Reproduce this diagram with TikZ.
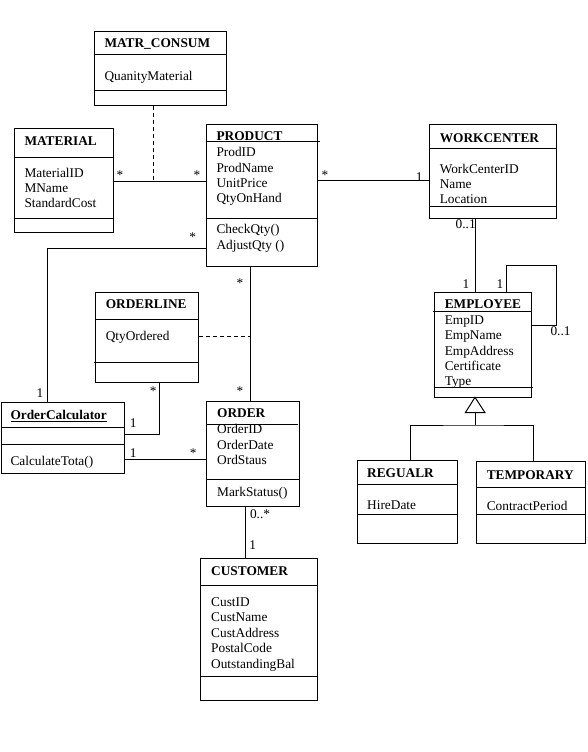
\documentclass[tikz,border=0pt]{standalone}
\usepackage{fontspec}
\setmainfont{Liberation Serif}
\usetikzlibrary{fit}
\tikzset{
  x=0.75pt, y=-0.75pt,
  every path/.style={line width=0.75pt},
  box/.style={draw, line width=0.75pt, inner sep=0pt, fit={#1}},
  ttl/.style={anchor=base west, inner sep=0pt, font=\fontsize{10}{12}\selectfont\bfseries},
  att/.style={anchor=base west, inner sep=0pt, font=\fontsize{10}{12}\selectfont},
  lbl/.style={inner sep=0pt, font=\fontsize{10}{12}\selectfont},
  dsh/.style={dash pattern=on 3pt off 2.25pt}
}
\begin{document}
\begin{tikzpicture}
\useasboundingbox (0,0) rectangle (587,752);
\fill[white] (0,0) rectangle (587,752);

% ---------- boxes ----------
\node[box={(94.3,31.3) (226.7,106)}] (matr) {};
\draw (94.3,55) -- (226.7,55) (94.3,91) -- (226.7,91);
\node[ttl] (matrT) at (104,48) {MATR\_CONSUM};
\node[att] (matrA) at (104,80.5) {QuanityMaterial};

\node[box={(14.3,128.3) (113.3,232.3)}] (material) {};
\draw (14.3,158) -- (113.3,158) (14.3,218.3) -- (113.3,218.3);
\node[ttl] (materialT) at (24,146) {MATERIAL};
\node[att] (materialA1) at (24,177.5) {MaterialID};
\node[att] (materialA2) at (24,193) {MName};
\node[att] (materialA3) at (24,208) {StandardCost};

\node[box={(206.7,124.3) (317.7,266)}] (product) {};
\draw (206.7,142) -- (319.5,142) (206.7,218.3) -- (317.7,218.3);
\node[ttl] (productT) at (216,141) {PRODUCT};
\node[att] (productA1) at (216,157) {ProdID};
\node[att] (productA2) at (216,172.5) {ProdName};
\node[att] (productA3) at (216,188) {UnitPrice};
\node[att] (productA4) at (216,203) {QtyOnHand};
\node[att] (productM1) at (216,233.8) {CheckQty()};
\node[att] (productM2) at (216,249.5) {AdjustQty ()};

\node[box={(429.3,124.3) (556.7,218.3)}] (workcenter) {};
\draw (429.3,148.3) -- (556.7,148.3) (429.3,206.7) -- (556.7,206.7);
\node[ttl] (workcenterT) at (439.3,142.8) {WORKCENTER};
\node[att] (workcenterA1) at (439.3,173.5) {WorkCenterID};
\node[att] (workcenterA2) at (439.3,188.5) {Name};
\node[att] (workcenterA3) at (439.3,203.5) {Location};

\node[box={(434.3,292.3) (531,397.3)}] (employee) {};
\draw (432.5,311.7) -- (531,311.7) (434.3,387.7) -- (532.5,387.7);
\node[ttl] (employeeT) at (444.3,308.8) {EMPLOYEE};
\node[att] (employeeA1) at (444.3,324.5) {EmpID};
\node[att] (employeeA2) at (444.3,339.8) {EmpName};
\node[att] (employeeA3) at (444.3,355) {EmpAddress};
\node[att] (employeeA4) at (444.3,370.2) {Certificate};
\node[att] (employeeA5) at (444.3,385) {Type};

\node[box={(95.7,292.3) (198.7,382.3)}] (orderline) {};
\draw (95.7,319.3) -- (198.7,319.3) (94,362.3) -- (198.7,362.3);
\node[ttl] (orderlineT) at (105.3,308.8) {ORDERLINE};
\node[att] (orderlineA) at (105.3,340.5) {QtyOrdered};

\node[box={(1,402.3) (124.3,473.3)}] (ordercalc) {};
\draw (1,427.3) -- (124.3,427.3) (1,444) -- (124.3,444);
\node[ttl] (ordercalcT) at (10,419.5) {\underline{OrderCalculator}};
\node[att] (ordercalcM) at (10,465.5) {CalculateTota()};

\node[box={(206.7,401.7) (299.3,506)}] (order) {};
\draw (206.7,424.3) -- (297.7,424.3) (206.7,479.3) -- (299.3,479.3);
\node[ttl] (orderT) at (216.7,417.8) {ORDER};
\node[att] (orderA1) at (216.7,433.8) {OrderID};
\node[att] (orderA2) at (216.7,449.2) {OrderDate};
\node[att] (orderA3) at (216.7,464.5) {OrdStaus};
\node[att] (orderM) at (216.7,496.2) {MarkStatus()};

\node[box={(200.7,558.3) (317.3,700)}] (customer) {};
\draw (200.7,585) -- (317.3,585) (200.7,676) -- (317.3,676);
\node[ttl] (customerT) at (210.7,575.2) {CUSTOMER};
\node[att] (customerA1) at (210.7,606.2) {CustID};
\node[att] (customerA2) at (210.7,621.5) {CustName};
\node[att] (customerA3) at (210.7,637.2) {CustAddress};
\node[att] (customerA4) at (210.7,652.5) {PostalCode};
\node[att] (customerA5) at (210.7,668.5) {OutstandingBal};

\node[box={(357.3,460.7) (457.3,543.3)}] (regualr) {};
\draw (357.3,484.7) -- (457.3,484.7) (357.3,514.7) -- (457.3,514.7);
\node[ttl] (regualrT) at (366.7,477.2) {REGUALR};
\node[att] (regualrA) at (366.7,509.5) {HireDate};

\node[box={(476.7,461.7) (585.7,543.3)}] (temporary) {};
\draw (476.7,487.7) -- (585.7,487.7) (476.7,514.7) -- (585.7,514.7);
\node[ttl] (temporaryT) at (486.3,479.5) {TEMPORARY};
\node[att] (temporaryA) at (486.3,510.5) {ContractPeriod};

% ---------- connector coordinates ----------
\coordinate (ya) at (0,181.7);
\coordinate (mj) at (153.3,181.7);
\coordinate (yb) at (0,180.7);
\coordinate (xw) at (475.7,0);
\coordinate (xs) at (506,0);
\coordinate (loopTop) at (556,265);
\coordinate (loopR) at (556,325);
\coordinate (apex) at (475,397.3);
\coordinate (gj) at (475,425);
\coordinate (xr) at (410,0);
\coordinate (xt) at (533.3,0);
\coordinate (xp) at (250,0);
\coordinate (yd) at (0,336.3);
\coordinate (yc) at (0,248.3);
\coordinate (xc) at (47.7,0);
\coordinate (ye) at (0,434);
\coordinate (xo) at (159.3,0);
\coordinate (yf) at (0,459.3);
\coordinate (xq) at (245.7,0);

% ---------- connectors ----------
\draw (material.east |- ya) -- (product.west |- ya);
\draw[dsh] (mj |- matr.south) -- (mj);
\draw (product.east |- yb) -- (workcenter.west |- yb);
\draw (xw |- workcenter.south) -- (xw |- employee.north);
\draw (xs |- employee.north) |- (loopTop) -- (loopR) -- (employee.east |- loopR);
\draw (apex) -- (465.3,412.7) -- (485,412.7) -- cycle;
\draw (475,412.7) -- (gj);
\draw (xr |- regualr.north) |- (gj) -| (xt |- temporary.north);
\draw (xp |- product.south) -- (xp |- order.north);
\draw[dsh] (orderline.east |- yd) -- (xp |- yd);
\draw (product.west |- yc) -| (xc |- ordercalc.north);
\draw (ordercalc.east |- ye) -| (xo |- orderline.south);
\draw (ordercalc.east |- yf) -- (order.west |- yf);
\draw (xq |- order.south) -- (xq |- customer.north);

% ---------- multiplicities ----------
\node[lbl] (m1) at (120,175) {*};
\node[lbl] (m2) at (197,175) {*};
\node[lbl] (m3) at (325,175) {*};
\node[lbl] (m4) at (419.3,176.7) {1};
\node[lbl] (m5) at (465.7,224.3) {0..1};
\node[lbl] (m6) at (466,284.3) {1};
\node[lbl] (m7) at (500,284.3) {1};
\node[lbl] (m8) at (560.5,331) {0..1};
\node[lbl] (m9) at (240,282.7) {*};
\node[lbl] (m10) at (240,391) {*};
\node[lbl] (m11) at (192.7,236.7) {*};
\node[lbl] (m12) at (40,393.3) {1};
\node[lbl] (m13) at (153.3,391) {*};
\node[lbl] (m14) at (133.3,422.7) {1};
\node[lbl] (m15) at (133.3,453.3) {1};
\node[lbl] (m16) at (193.3,453.3) {*};
\node[lbl] (m17) at (260,514) {0..*};
\node[lbl] (m18) at (252.7,545) {1};
\end{tikzpicture}
\end{document}
